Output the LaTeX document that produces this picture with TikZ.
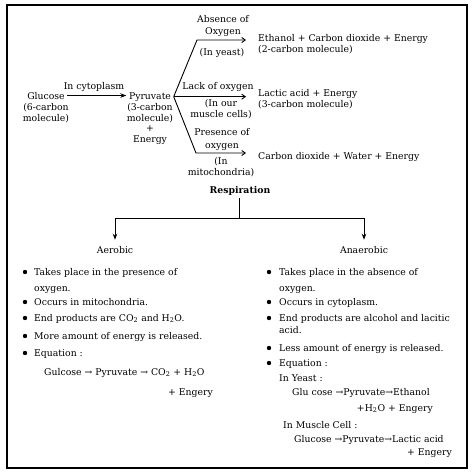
\documentclass[tikz,border=0pt]{standalone}
\usepackage{fontspec}
\setmainfont{DejaVu Serif}
\usetikzlibrary{arrows.meta}
\newcommand\mysz{\fontsize{9.3}{11}\selectfont}
\begin{document}
\begin{tikzpicture}[x=1pt,y=-1pt,
  t/.style={font=\mysz, inner sep=0pt},
  c/.style={t, anchor=base},
  w/.style={t, anchor=base west},
  e/.style={t, anchor=base east},
  ln/.style={line width=0.9pt},
  barb/.style={ln, -{Straight Barb[length=3.5pt,width=5pt]}},
  sarr/.style={ln, -{Stealth[length=6pt,width=4.5pt]}},
  bul/.style={fill=black}]
\useasboundingbox (0,0) rectangle (474,472);
\draw[line width=1.3pt] (7,5) rectangle (467,468);
% top reaction
\node[c, inner sep=2.5pt] (glu1) at (46,99) {Glucose};
\node[c] (glu2) at (46,110) {(6-carbon};
\node[c] (glu3) at (46,121) {molecule)};
\node[c] (cyt) at (94,89) {In cytoplasm};
\node[c, inner sep=2.5pt] (pyr1) at (150,99) {Pyruvate};
\node[c] (pyr2) at (150,110) {(3-carbon};
\node[c] (pyr3) at (150,121) {molecule)};
\node[c] (pyr4) at (150,131) {+};
\node[c] (pyr5) at (150,142) {Energy};
\draw[sarr] (glu1.east) -- (glu1.east -| pyr1.west);
% branch labels
\node[c] (ab1) at (223,22) {Absence of};
\node[c] (ab2) at (223,34) {Oxygen};
\node[c] (ab3) at (222,55) {(In yeast)};
\node[c] (la1) at (218,89) {Lack of oxygen};
\node[c] (la2) at (221,106) {(In our};
\node[c] (la3) at (221,117) {muscle cells)};
\node[c] (pr1) at (222,135) {Presence of};
\node[c] (pr2) at (222,148) {oxygen};
\node[c] (pr3) at (221,164) {(In};
\node[c] (pr4) at (221,175) {mitochondria)};
% results
\node[w] (r1a) at (258,41) {Ethanol + Carbon dioxide + Energy};
\node[w] (r1b) at (258,52) {(2-carbon molecule)};
\node[w] (r2a) at (258,96) {Lactic acid + Energy};
\node[w] (r2b) at (258,107) {(3-carbon molecule)};
\node[w] (r3a) at (258,159) {Carbon dioxide + Water + Energy};
\coordinate (c1) at (197,40);
\coordinate (e1) at (246,40);
\coordinate (e2) at (246,96);
\coordinate (c3) at (196,153);
\coordinate (e3) at (246,153);
\draw[barb] (pyr1.east) -- (c1) -- (e1);
\draw[barb] (pyr1.east) -- (pyr1.east -| e2);
\draw[barb] (pyr1.east) -- (c3) -- (e3);
% respiration
\node[c, font=\mysz\bfseries, inner sep=3pt] (resp) at (240,193) {Respiration};
\coordinate (rs) at (239,218);
\coordinate (ja) at (115,218);
\coordinate (jb) at (364,218);
\node[c, inner sep=2pt] (aer) at (115,253) {Aerobic};
\node[c, inner sep=2pt] (anaer) at (364,253) {Anaerobic};
\draw[ln] (resp.south -| rs) -- (rs);
\draw[ln] (ja) -- (jb);
\draw[sarr, shorten >=4pt] (ja) -- (aer.north -| ja);
\draw[sarr, shorten >=4pt] (jb) -- (anaer.north -| jb);
% aerobic list
\node[w] (a1) at (34,275) {Takes place in the presence of};
\node[w] (a1b) at (34,291) {oxygen.};
\node[w] (a2) at (34,305) {Occurs in mitochondria.};
\node[w] (a3) at (34,321) {End products are CO\textsubscript{2} and H\textsubscript{2}O.};
\node[w] (a4) at (34,339) {More amount of energy is released.};
\node[w] (a5) at (34,356) {Equation :};
\node[w] (a6) at (44,375) {Gulcose → Pyruvate → CO\textsubscript{2} + H\textsubscript{2}O};
\node[e] (a7) at (213,395) {+ Engery};
\foreach \yy in {272,302,318,336,353} \fill[bul] (25,\yy) circle (2.2pt);
% anaerobic list
\node[w] (n1) at (279,275) {Takes place in the absence of};
\node[w] (n1b) at (279,291) {oxygen.};
\node[w] (n2) at (279,305) {Occurs in cytoplasm.};
\node[w] (n3) at (279,321) {End products are alcohol and lacitic};
\node[w] (n3b) at (279,333) {acid.};
\node[w] (n4) at (279,351) {Less amount of energy is released.};
\node[w] (n5) at (279,366) {Equation :};
\node[w] (n6) at (279,381) {In Yeast :};
\node[w] (n7) at (292,395) {Glu cose →Pyruvate→Ethanol};
\node[e] (n8) at (433,411) {+H\textsubscript{2}O + Engery};
\node[w] (n9) at (283,428) {In Muscle Cell :};
\node[w] (n10) at (294,442) {Glucose →Pyruvate→Lactic acid};
\node[e] (n11) at (452,455) {+ Engery};
\foreach \yy in {272,302,318,348,363} \fill[bul] (269,\yy) circle (2.2pt);
\end{tikzpicture}
\end{document}
